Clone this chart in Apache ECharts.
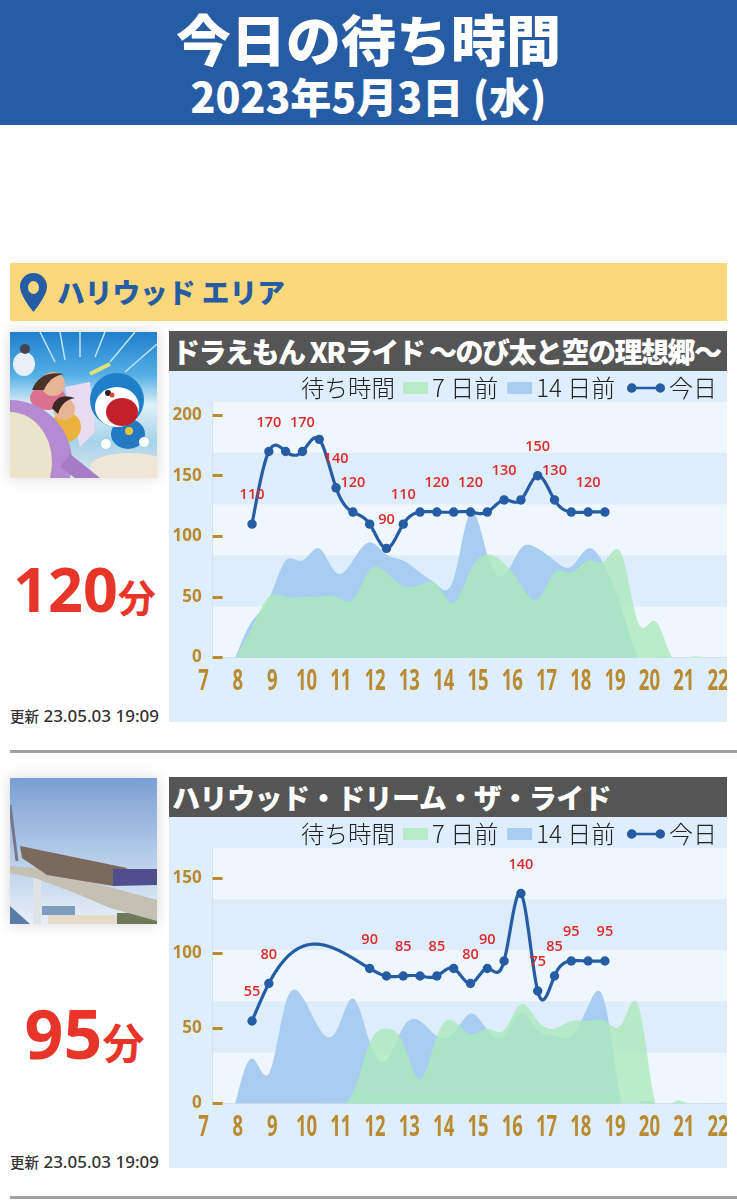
<!DOCTYPE html>
<html>
<head>
<meta charset="utf-8">
<script src="https://cdn.jsdelivr.net/npm/echarts@6/dist/echarts.min.js"></script>
<style>
  html, body { margin: 0; padding: 0; background: #fff; }
  body { position: relative; width: 737px; height: 1200px; overflow: hidden; font-family: "Noto Sans CJK JP", "Noto Sans", sans-serif; }
  .abs { position: absolute; white-space: nowrap; }
  #head { left: 0; top: 0; width: 737px; height: 125px; background: #265ca3; color: #fff; text-align: center; font-weight: 900; }
  #head .t1 { position: absolute; left: 0; right: 0; top: 1px; font-size: 55px; line-height: 72px; }
  #head .t2 { position: absolute; left: 0; right: 0; top: 67px; font-size: 41px; line-height: 56px; }
  #area { left: 10px; top: 263px; width: 717px; height: 58px; background: #f9d87c; }
  #area span { position: absolute; left: 47px; top: 5px; font-size: 27.7px; line-height: 46px; font-weight: 900; color: #265ca3; }
  .photo { left: 10px; width: 147px; height: 146px; box-shadow: 0 0 14px rgba(0,0,0,.16); }
  .bar { left: 169px; width: 558px; height: 40px; background: #555; color: #fff; font-weight: 900; font-size: 28px; line-height: 40px; padding-left: 3px; box-sizing: border-box; overflow: hidden; }
  .panel { left: 169px; width: 558px; height: 351px; background: #deeefc; }
  .wait { left: 0; width: 169px; text-align: center; color: #e8352a; font-family: "Open Sans", "Noto Sans CJK JP"; font-weight: 700; font-size: 61px; line-height: 70px; }
  .wait small { font-family: "Noto Sans CJK JP"; font-size: 38px; font-weight: 700; }
  .upd { left: 10px; color: #333; font-size: 17px; line-height: 18px; font-weight: 500; font-family: "Noto Sans", "Noto Sans CJK JP"; }
  .upd b { font: 500 14.5px "Noto Sans CJK JP"; }
  .rule { left: 10px; width: 727px; height: 3px; background: #a0a0a0; }
</style>
</head>
<body>
<div class="abs" id="head"><div class="t1">今日の待ち時間</div><div class="t2">2023年5月3日 (水)</div></div>
<div class="abs" id="area">
  <svg style="position:absolute;left:10px;top:10px" width="27" height="39" viewBox="0 0 27 39"><path fill="#265ca3" fill-rule="evenodd" d="M13.5 0C6 0 0 6 0 13.5 0 23 13.5 39 13.5 39S27 23 27 13.5C27 6 21 0 13.5 0zm0 8a5.5 6.5 0 1 1 0 13 5.5 6.5 0 0 1 0-13z"/></svg>
  <span>ハリウッド エリア</span>
</div>

<svg class="abs photo" style="top:332px" viewBox="0 0 147 146">
  <defs><linearGradient id="sky1" x1="0" y1="0" x2="0" y2="1"><stop offset="0" stop-color="#1f7fcb"/><stop offset=".3" stop-color="#56b0e6"/><stop offset=".5" stop-color="#dff0f7"/><stop offset=".75" stop-color="#a6d3ea"/><stop offset="1" stop-color="#dfe6ea"/></linearGradient></defs>
  <rect width="147" height="146" fill="url(#sky1)"/>
  <path d="M30 0L45 30M50 0L55 28M70 0L70 25M95 0L85 25M125 0L100 30M147 12L115 40" stroke="#bfe3f7" stroke-width="1.5"/>
  <ellipse cx="120" cy="135" rx="40" ry="14" fill="#efe6d8"/>
  <path d="M55 55L80 50L85 100L70 115Z" fill="#eadcf0"/>
  <ellipse cx="14" cy="32" rx="11" ry="12" fill="#e8eef5"/><circle cx="15" cy="17" r="5" fill="#445"/>
  <ellipse cx="38" cy="66" rx="18" ry="12" fill="#d9708f"/>
  <circle cx="43" cy="52" r="12" fill="#e6b595"/><path d="M22 58Q30 38 54 42Q40 44 34 58Z" fill="#4a3328"/>
  <ellipse cx="56" cy="95" rx="15" ry="15" fill="#e9b23c"/>
  <circle cx="54" cy="77" r="11" fill="#e6b595"/><path d="M42 76Q46 60 65 66Q52 68 48 82Z" fill="#3c2a22"/>
  <ellipse cx="0" cy="130" rx="62" ry="62" fill="#b48ad0"/>
  <ellipse cx="0" cy="130" rx="42" ry="50" fill="#eae4ca"/>
  <path d="M50 135L65 146H90L60 122Z" fill="#a77cc6"/>
  <path d="M80 42L100 32" stroke="#dfe27a" stroke-width="4"/>
  <ellipse cx="118" cy="102" rx="17" ry="15" fill="#2379c4"/>
  <circle cx="107" cy="68" r="27" fill="#1f7fc8"/>
  <ellipse cx="107" cy="75" rx="22" ry="20" fill="#fff"/>
  <ellipse cx="112" cy="80" rx="16" ry="14" fill="#c1212b"/>
  <circle cx="98" cy="61" r="3" fill="#222"/><circle cx="102" cy="63" r="2.5" fill="#d43"/>
  <circle cx="119" cy="99" r="4" fill="#e8c53a"/>
  <circle cx="96" cy="112" r="5" fill="#fff"/><circle cx="134" cy="110" r="5" fill="#fff"/>
</svg>
<div class="abs bar" style="top:331px;letter-spacing:-1.5px">ドラえもん XRライド 〜のび太と空の理想郷〜</div>
<div class="abs panel" id="chart1" style="top:371px"></div>
<div class="abs wait" style="top:554px">120<small>分</small></div>
<div class="abs upd" style="top:705px"><b>更新</b> 23.05.03 19:09</div>
<div class="abs rule" style="top:750px"></div>

<svg class="abs photo" style="top:778px" viewBox="0 0 147 146">
  <defs><linearGradient id="sky2" x1="0" y1="0" x2="0" y2="1"><stop offset="0" stop-color="#7b9fd3"/><stop offset=".6" stop-color="#bcd2ec"/><stop offset="1" stop-color="#e8eff7"/></linearGradient></defs>
  <rect width="147" height="146" fill="url(#sky2)"/>
  <path d="M0 27L7 83" stroke="#778" stroke-width="3" fill="none"/>
  <rect x="23" y="100" width="8" height="46" fill="#dfe3e6"/>
  <path d="M0 128L20 146H0Z" fill="#5a7da8"/><path d="M32 128H65V137H32Z" fill="#7f9bbd"/><path d="M38 137H107V146H38Z" fill="#e4dcc8"/><path d="M107 135H147V146H107Z" fill="#6c7a5a"/>
  <path d="M0 88L30 90L147 122V143L100 130L65 115L25 100L0 95Z" fill="#c4c0b4"/>
  <path d="M10 68L117 90L103 108L37 97L12 80Z" fill="#7a6a5e"/>
  <path d="M103 91L147 91V107L103 108Z" fill="#4e4f8c"/>
</svg>
<div class="abs bar" style="top:777px;letter-spacing:-.5px">ハリウッド・ドリーム・ザ・ライド</div>
<div class="abs panel" id="chart2" style="top:817px"></div>
<div class="abs wait" style="top:998px;font-size:68px">95<small style="font-size:42px">分</small></div>
<div class="abs upd" style="top:1151px"><b>更新</b> 23.05.03 19:09</div>
<div class="abs rule" style="top:1196px"></div>

<script>
var hourLabels = [7,8,9,10,11,12,13,14,15,16,17,18,19,20,21,22];

// half hour-ish slots the site plots on
var slots = [7.66,8.15,8.64,9.13,9.62,10.11,10.60,11.09,11.58,12.07,12.56,13.05,13.54,14.03,14.52,15.01,15.50,15.99,16.48,16.97,17.46,17.95,18.44,18.93,19.42,19.91,20.40,20.89,21.38,21.87];

// ドラえもん XRライド
var doraTicks = [0,50,100,150,200];
var doraWeek2 = [0,30,48,80,80,90,70,80,95,85,80,70,60,65,120,85,68,90,90,80,75,90,75,40,0,0,0,0,0,0];
var doraWeek1 = [0,25,50,50,50,50,50,48,72,70,59,60,60,45,72,85,78,60,48,70,70,80,80,85,28,30,0,0,0,0];
var doraToday = [null,110,170,170,170,180,140,120,110,90,110,120,120,120,120,120,130,130,150,130,120,120,120];
var doraLabels = [1,2,4,6,7,9,10,12,14,16,18,19,21];

// ハリウッド・ドリーム
var dreamTicks = [0,50,100,150];
var dreamWeek2 = [0,30,20,67,71,50,48,70,41,29,51,55,45,47,60,49,45,60,49,45,45,65,67,0,0,0,0,0,0,0];
var dreamWeek1 = [0,0,0,0,0,0,0,7,40,50,40,16,45,55,46,50,49,66,55,50,55,55,55,53,65,0,0,0,0,0];
var dreamToday = [null,55,80,null,null,null,null,null,90,85,85,85,85,90,80,90,95,140,75,85,95,95,95];
var dreamLabels = [1,2,8,10,12,14,15,17,18,19,20,22];

var gold = '#b98a2f';
var blue = '#265ca3';
var bandLight = '#eff7fe', bandDark = '#deedfb';
var lineIcon = 'path://M6 0a6 6 0 0 1 5.8 4.5H36.2A6 6 0 1 1 36.2 7.5H11.8A6 6 0 0 1 0 6 6 6 0 0 1 6 0z';

function pairs(values) {
    var out = [];
    values.forEach(function (v, i) {
        if (v !== null) out.push([slots[i], v]);
    });
    return out;
}

// the site draws a natural cubic spline, the line series' smoothing flattens the peaks so it is done here
function naturalSpline(pts) {
    var n = pts.length, m = new Array(n).fill(0), c = new Array(n).fill(0), d = new Array(n).fill(0), i;
    for (i = 1; i < n - 1; i++) {
        var h0 = pts[i][0] - pts[i - 1][0], h1 = pts[i + 1][0] - pts[i][0];
        var r = 6 * ((pts[i + 1][1] - pts[i][1]) / h1 - (pts[i][1] - pts[i - 1][1]) / h0);
        var w = 2 * (h0 + h1) - h0 * c[i - 1];
        c[i] = h1 / w;
        d[i] = (r - h0 * d[i - 1]) / w;
    }
    for (i = n - 2; i > 0; i--) m[i] = d[i] - c[i] * m[i + 1];
    return function (x) {
        var k = 0;
        while (k < n - 2 && x > pts[k + 1][0]) k++;
        var h = pts[k + 1][0] - pts[k][0], a = (pts[k + 1][0] - x) / h, b = (x - pts[k][0]) / h;
        return a * pts[k][1] + b * pts[k + 1][1] + ((a * a * a - a) * m[k] + (b * b * b - b) * m[k + 1]) * h * h / 6;
    };
}

function curvePixels(pts, api, floor) {
    var f = naturalSpline(pts), out = [], last = pts[pts.length - 1][0];
    for (var x = pts[0][0]; x < last; x += 0.03) {
        var y = f(x);
        out.push(api.coord([x, floor ? Math.max(y, 0) : y]));
    }
    out.push(api.coord(pts[pts.length - 1]));
    return out;
}

function areaSeries(name, values, color) {
    var pts = pairs(values);
    return {
        name: name, type: 'custom', silent: true, encode: { x: 0, y: 1 }, data: pts,
        itemStyle: { color: color },
        renderItem: function (params, api) {
            if (params.dataIndex !== 0) return;
            var poly = curvePixels(pts, api, true);
            poly.unshift(api.coord([pts[0][0], 0]));
            poly.push(api.coord([pts[pts.length - 1][0], 0]));
            return { type: 'polygon', shape: { points: poly }, style: { fill: color } };
        }
    };
}

function todaySeries(values, labelled) {
    var pts = pairs(values);
    var shown = labelled.map(function (i) { return values[i] === null ? null : slots[i]; });
    return {
        name: '今日', type: 'custom', silent: true, encode: { x: 0, y: 1 }, data: pts, z: 5,
        itemStyle: { color: blue },
        renderItem: function (params, api) {
            var p = pts[params.dataIndex], c = api.coord(p), kids = [];
            if (params.dataIndex === 0) {
                kids.push({ type: 'polyline', shape: { points: curvePixels(pts, api, false) }, style: { stroke: blue, lineWidth: 3.2, fill: null } });
            }
            kids.push({ type: 'circle', shape: { cx: c[0], cy: c[1], r: 4.7 }, style: { fill: blue } });
            if (shown.indexOf(p[0]) >= 0) {
                kids.push({
                    type: 'text', z2: 10,
                    style: { x: c[0], y: c[1] - 29, text: String(p[1]), fill: '#dd2a2a', font: '600 14.5px "Open Sans"', align: 'center', verticalAlign: 'middle' }
                });
            }
            return { type: 'group', children: kids };
        }
    };
}

// hour labels are squeezed narrow in the reference, the axis label has no such option
function hourSeries() {
    return {
        type: 'custom', silent: true, encode: { x: 0, y: 1 }, z: 6,
        data: hourLabels.map(function (h) { return [h, 0]; }),
        renderItem: function (params, api) {
            var c = api.coord([api.value(0), 0]);
            return {
                type: 'text', x: c[0] - 9, y: c[1] + 24.5, scaleX: 0.66,
                style: { text: String(api.value(0)), fill: gold, font: 'bold 28px "Open Sans"', align: 'center', verticalAlign: 'middle' }
            };
        }
    };
}

function drawChart(id, ticks, yMax, week1, week2, today, labelled) {
    var chart = echarts.init(document.getElementById(id));
    var legendText = { fontSize: 24, fontWeight: 300, color: '#222', padding: [0, 0, 0, -1], lineHeight: 34 };
    chart.setOption({
        animation: false,
        textStyle: { fontFamily: '"Noto Sans CJK JP", sans-serif' },
        title: {
            text: '待ち時間', left: 132, top: 0, padding: 0,
            textStyle: { fontSize: 23.5, fontWeight: 300, color: '#222', lineHeight: 34 }
        },
        legend: [
            {
                left: 234, top: 0, itemGap: 9, padding: 0, itemHeight: 12, itemWidth: 25, selectedMode: false,
                textStyle: legendText,
                data: [
                    { name: '7 日前', icon: 'rect', itemStyle: { color: '#b9ebc9' } },
                    { name: '14 日前', icon: 'rect', itemStyle: { color: '#a9cdf1' } }
                ]
            },
            {
                left: 458, top: 0, padding: 0, itemHeight: 11, itemWidth: 38, selectedMode: false,
                textStyle: legendText,
                data: [{ name: '今日', icon: lineIcon, itemStyle: { color: blue } }]
            }
        ],
        grid: { left: 43.6, right: 0, top: 31, height: 255.5, outerBoundsMode: 'none' },
        xAxis: {
            type: 'value', min: 7, max: 22, interval: 1,
            axisLine: { show: true, lineStyle: { color: '#d5e1ec', width: 1 } },
            axisTick: { show: false },
            splitLine: { show: false },
            axisLabel: { show: false }
        },
        yAxis: [
            {
                type: 'value', min: 0, max: yMax,
                axisLine: { show: true, lineStyle: { color: '#d5e1ec', width: 1 } },
                axisTick: { show: true, inside: true, length: 10, customValues: ticks, lineStyle: { color: gold, width: 3 } },
                splitLine: { show: false },
                axisLabel: { margin: 11, color: gold, fontFamily: '"Open Sans"', fontWeight: 'bold', fontSize: 17, customValues: ticks }
            },
            {
                // the pale bands do not follow the value ticks, five equal strips
                type: 'value', min: 0, max: 5, interval: 1, position: 'right',
                axisLine: { show: false }, axisTick: { show: false }, axisLabel: { show: false },
                splitLine: { show: false },
                splitArea: { show: true, areaStyle: { color: [bandLight, bandDark] } }
            }
        ],
        series: [
            areaSeries('14 日前', week2, '#a9cdf1'),
            areaSeries('7 日前', week1, 'rgba(171,232,187,0.79)'),
            todaySeries(today, labelled),
            hourSeries()
        ]
    });
    return chart;
}

drawChart('chart1', doraTicks, 210.8, doraWeek1, doraWeek2, doraToday, doraLabels);
drawChart('chart2', dreamTicks, 170.3, dreamWeek1, dreamWeek2, dreamToday, dreamLabels);
</script>
</body>
</html>
